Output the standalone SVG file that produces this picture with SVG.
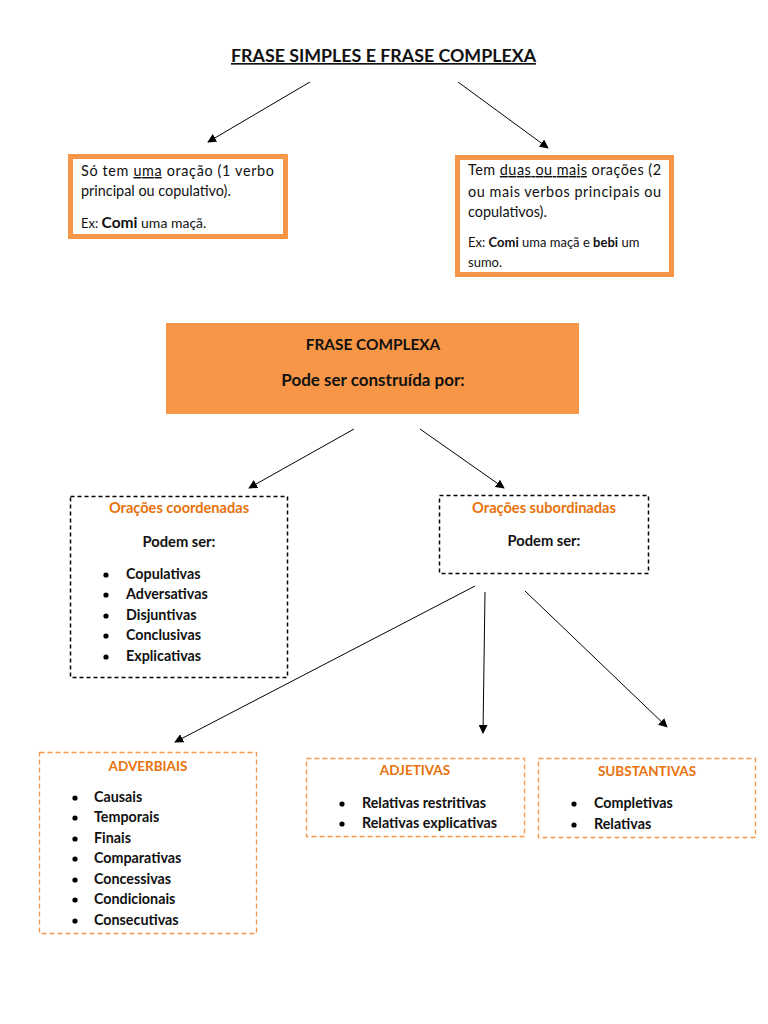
<svg xmlns="http://www.w3.org/2000/svg" width="768" height="1024" viewBox="0 0 768 1024">
<style>
text{font-family:Lato,"Open Sans","Liberation Sans",sans-serif;fill:#111}
.b{font-weight:bold}
.t{font-size:14.4px}
.s{font-size:13px}
.h{font-size:14.6px;font-weight:bold;fill:#E8720C;text-anchor:middle}
.h2{font-size:13.5px;font-weight:bold;fill:#E8720C;text-anchor:middle}
.p{font-size:14.7px;font-weight:bold;text-anchor:middle}
.li{font-size:14.3px;font-weight:bold}
.c{text-anchor:middle}
.ob{fill:#fff;stroke:#F79646;stroke-width:5}
.kd{fill:#fff;stroke:#000;stroke-width:1.5;stroke-dasharray:4 3}
.od{fill:#fff;stroke:#F79646;stroke-width:1.3;stroke-dasharray:5 3}
.cn line{stroke:#000;stroke-width:1;marker-end:url(#ah)}
.u{text-decoration:underline}
</style>
<defs>
<marker id="ah" viewBox="0 0 10 10" refX="9" refY="5" markerWidth="9" markerHeight="9" markerUnits="userSpaceOnUse" orient="auto">
<path d="M0,0 L10,5 L0,10 z" fill="#000"/>
</marker>
<g id="bul"><circle r="2.6" fill="#000"/></g>
</defs>
<rect width="768" height="1024" fill="#fff"/>

<g id="title">
<text x="383.5" y="62" class="b c u" font-size="16.5px" textLength="305" lengthAdjust="spacingAndGlyphs">FRASE SIMPLES E FRASE COMPLEXA</text>
</g>

<g id="simples">
<rect class="ob" x="70.5" y="156.5" width="215" height="80"/>
<text x="81" y="176" class="t" textLength="193" lengthAdjust="spacing">Só tem <tspan class="u">uma</tspan> oração (1 verbo</text>
<text x="81" y="196" class="t">principal ou copulativo).</text>
<text x="81" y="228"><tspan class="s">Ex: </tspan><tspan class="b" font-size="15.5px">Comi</tspan><tspan font-size="14px"> uma maçã.</tspan></text>
</g>

<g id="complexa-def">
<rect class="ob" x="457.5" y="157.5" width="214" height="117"/>
<text x="468" y="175" class="t" textLength="193" lengthAdjust="spacing">Tem <tspan class="u">duas ou mais</tspan> orações (2</text>
<text x="468" y="197" class="t" textLength="193" lengthAdjust="spacing">ou mais verbos principais ou</text>
<text x="468" y="217" class="t">copulativos).</text>
<text x="468" y="247" class="s">Ex: <tspan class="b">Comi</tspan> uma maçã e <tspan class="b">bebi</tspan> um</text>
<text x="468" y="267" class="s">sumo.</text>
</g>

<g id="frase-complexa">
<rect x="166" y="323" width="413" height="91" fill="#F79646"/>
<text x="373" y="350" class="b c" font-size="15.4px">FRASE COMPLEXA</text>
<text x="373" y="386" class="b c" font-size="17px">Pode ser construída por:</text>
</g>

<g id="coordenadas">
<rect class="kd" x="70.5" y="496.5" width="217" height="181"/>
<text x="179" y="513" class="h">Orações coordenadas</text>
<text x="179" y="547" class="p">Podem ser:</text>
<use href="#bul" x="106" y="575"/><text x="126" y="579" class="li">Copulativas</text>
<use href="#bul" x="106" y="595"/><text x="126" y="599" class="li">Adversativas</text>
<use href="#bul" x="106" y="616"/><text x="126" y="620" class="li">Disjuntivas</text>
<use href="#bul" x="106" y="636"/><text x="126" y="640" class="li">Conclusivas</text>
<use href="#bul" x="106" y="657"/><text x="126" y="661" class="li">Explicativas</text>
</g>

<g id="subordinadas">
<rect class="kd" x="439.5" y="495.5" width="209" height="78"/>
<text x="544" y="513" class="h">Orações subordinadas</text>
<text x="544" y="546" class="p">Podem ser:</text>
</g>

<g id="adverbiais">
<rect class="od" x="39.5" y="752.5" width="217" height="181"/>
<text x="148" y="771" class="h2">ADVERBIAIS</text>
<use href="#bul" x="75" y="798"/><text x="94" y="802" class="li">Causais</text>
<use href="#bul" x="75" y="818"/><text x="94" y="822" class="li">Temporais</text>
<use href="#bul" x="75" y="839"/><text x="94" y="843" class="li">Finais</text>
<use href="#bul" x="75" y="859"/><text x="94" y="863" class="li">Comparativas</text>
<use href="#bul" x="75" y="880"/><text x="94" y="884" class="li">Concessivas</text>
<use href="#bul" x="75" y="900"/><text x="94" y="904" class="li">Condicionais</text>
<use href="#bul" x="75" y="921"/><text x="94" y="925" class="li">Consecutivas</text>
</g>

<g id="adjetivas">
<rect class="od" x="306.5" y="758.5" width="218" height="78"/>
<text x="415" y="775" class="h2">ADJETIVAS</text>
<use href="#bul" x="342" y="804"/><text x="362" y="808" class="li">Relativas restritivas</text>
<use href="#bul" x="342" y="824"/><text x="362" y="828" class="li">Relativas explicativas</text>
</g>

<g id="substantivas">
<rect class="od" x="538.5" y="758.5" width="217" height="79"/>
<text x="647" y="776" class="h2">SUBSTANTIVAS</text>
<use href="#bul" x="574" y="804"/><text x="594" y="808" class="li">Completivas</text>
<use href="#bul" x="574" y="825"/><text x="594" y="829" class="li">Relativas</text>
</g>

<g id="connectors" class="cn">
<line x1="310" y1="82" x2="208" y2="142"/>
<line x1="458" y1="82" x2="548" y2="148"/>
<line x1="354" y1="429" x2="249" y2="488"/>
<line x1="420" y1="429" x2="504" y2="488"/>
<line x1="475" y1="586" x2="175" y2="742"/>
<line x1="485" y1="592" x2="483" y2="733"/>
<line x1="525" y1="591" x2="667" y2="727"/>
</g>
</svg>
